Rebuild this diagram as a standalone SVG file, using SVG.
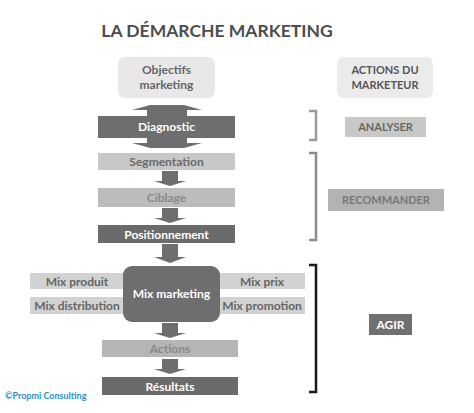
<svg xmlns="http://www.w3.org/2000/svg" width="474" height="413" viewBox="0 0 474 413">
<style>
text{font-family:Lato,"Open Sans","Liberation Sans",sans-serif;font-weight:bold;text-anchor:middle}
.t{font-size:12px}
.w{fill:#ffffff}
.g{fill:#666666}
.arr{fill:#6e6e6e}
.br{fill:none;stroke-width:2.5}
</style>
<rect width="474" height="413" fill="#ffffff"/>
<text x="217" y="37" style="font-size:17.5px;fill:#4d4d4d">LA DÉMARCHE MARKETING</text>

<g id="connectors">
  <polygon class="arr" points="150,105 184,105 202,110 187,110 187,116 147,116 147,110 132,110"/>
  <polygon class="arr" points="147,138 187,138 187,143 202,143 184,148 150,148 132,143 147,143"/>
  <g id="a1"><rect class="arr" x="162" y="171" width="16" height="10"/><polygon class="arr" points="154,181 186,181 170,186"/></g>
  <g id="a2"><rect class="arr" x="162" y="208" width="16" height="10"/><polygon class="arr" points="154,218 186,218 170,223"/></g>
  <g id="a3"><rect class="arr" x="162" y="244" width="16" height="13"/><polygon class="arr" points="154,257 186,257 170,263"/></g>
  <g id="a4"><rect class="arr" x="162" y="323" width="16" height="10"/><polygon class="arr" points="154,333 186,333 170,338"/></g>
  <g id="a5"><rect class="arr" x="162" y="359" width="16" height="10"/><polygon class="arr" points="154,369 186,369 170,374"/></g>
  <path class="br" stroke="#9a9a9a" d="M309,111 H316 V140 H309"/>
  <path class="br" stroke="#8c8c8c" d="M309,153 H316 V240 H309"/>
  <path class="br" stroke="#1a1a1a" d="M309,265 H316 V392 H309"/>
</g>

<g id="objectifs">
  <rect x="118" y="57" width="97" height="41" rx="7" fill="#e8e8e8"/>
  <text class="t g" x="166.5" y="74">Objectifs</text>
  <text class="t g" x="166.5" y="89">marketing</text>
</g>
<g id="diagnostic">
  <rect x="98" y="116" width="137" height="22" fill="#6e6e6e"/>
  <text class="t w" x="166.5" y="131">Diagnostic</text>
</g>
<g id="segmentation">
  <rect x="98" y="153" width="137" height="17" fill="#c8c8c8"/>
  <text class="t" x="166.5" y="166" fill="#6a6a6a">Segmentation</text>
</g>
<g id="ciblage">
  <rect x="98" y="188" width="137" height="19" fill="#bcbcbc"/>
  <text class="t" x="166.5" y="202" fill="#8a8a8a">Ciblage</text>
</g>
<g id="positionnement">
  <rect x="98" y="225" width="137" height="18" fill="#6b6b6b"/>
  <text class="t w" x="166.5" y="238.5">Positionnement</text>
</g>
<g id="mix-produit">
  <rect x="30" y="273" width="96" height="16" fill="#d2d2d2"/>
  <text class="t g" x="77" y="285.5">Mix produit</text>
</g>
<g id="mix-distribution">
  <rect x="30" y="297" width="96" height="17" fill="#d2d2d2"/>
  <text class="t g" x="77" y="309.5">Mix distribution</text>
</g>
<g id="mix-prix">
  <rect x="217" y="273" width="88" height="16" fill="#d2d2d2"/>
  <text class="t g" x="262" y="285.5">Mix prix</text>
</g>
<g id="mix-promotion">
  <rect x="217" y="297" width="88" height="17" fill="#d2d2d2"/>
  <text class="t g" x="262" y="310">Mix promotion</text>
</g>
<g id="mix-marketing">
  <rect x="123" y="266" width="97" height="56" rx="9" fill="#6e6e6e"/>
  <text class="t w" x="171.5" y="298">Mix marketing</text>
</g>
<g id="actions">
  <rect x="102" y="340" width="136" height="17" fill="#b5b5b5"/>
  <text class="t" x="170" y="353" fill="#8a8a8a">Actions</text>
</g>
<g id="resultats">
  <rect x="102" y="377" width="136" height="18" fill="#6b6b6b"/>
  <text class="t w" x="170" y="390.5">Résultats</text>
</g>

<g id="actions-marketeur">
  <rect x="337" y="57" width="96" height="41" rx="7" fill="#ebebeb"/>
  <text x="385" y="74" style="font-size:11px;fill:#555555">ACTIONS DU</text>
  <text x="385" y="89" style="font-size:11px;fill:#555555">MARKETEUR</text>
</g>
<g id="analyser">
  <rect x="345" y="117" width="81" height="20" fill="#c8c8c8"/>
  <text x="385.5" y="131" style="font-size:11px;fill:#666666">ANALYSER</text>
</g>
<g id="recommander">
  <rect x="328" y="189" width="116" height="22" fill="#b3b3b3"/>
  <text x="386" y="204" style="font-size:11px;fill:#777777">RECOMMANDER</text>
</g>
<g id="agir">
  <rect x="369" y="314" width="43" height="21" fill="#707070"/>
  <text class="w" x="390.5" y="329" style="font-size:12px">AGIR</text>
</g>

<text x="5" y="399" style="font-size:9px;fill:#2a8fc4;text-anchor:start">©Propmi  Consulting</text>
</svg>
